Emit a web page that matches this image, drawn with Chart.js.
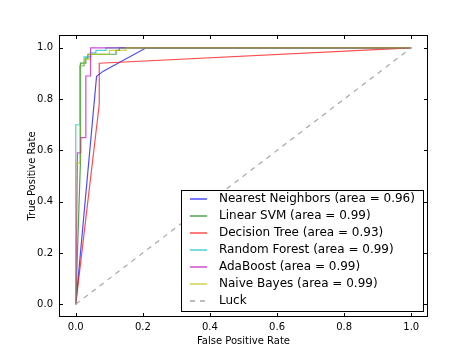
<!doctype html>
<html lang="en">
<head>
  <meta charset="utf-8">
  <title>ROC curves</title>
  <script src="https://cdn.jsdelivr.net/npm/chart.js"></script>
  <style>
    body { margin: 0; background: #fff; }
    #wrap { width: 474px; height: 353px; }
  </style>
</head>
<body>
  <div id="wrap"><canvas id="roc"></canvas></div>

  <script>
    // === DATA ===
    const names = ["Nearest Neighbors", "Linear SVM", "Decision Tree", "Random Forest", "AdaBoost", "Naive Bayes"];
    const areas = ["0.96", "0.99", "0.93", "0.99", "0.99", "0.99"];

    const nnFpr = [0, 0.062, 0.082, 0.21, 1];
    const nnTpr = [0, 0.889, 0.909, 1, 1];

    const svmFpr = [0, 0.014, 0.014, 0.03, 0.03, 0.036, 0.036, 0.12, 0.12, 0.13, 0.13, 1];
    const svmTpr = [0, 0.56, 0.94, 0.94, 0.96, 0.96, 0.975, 0.975, 0.99, 0.99, 1, 1];

    const treeFpr = [0, 0.07, 0.07, 1];
    const treeTpr = [0, 0.78, 0.94, 1];

    const forestFpr = [0, 0, 0.012, 0.012, 0.025, 0.025, 0.045, 0.045, 0.06, 0.06, 0.09, 0.09, 1];
    const forestTpr = [0, 0.70, 0.70, 0.93, 0.93, 0.965, 0.965, 0.98, 0.98, 0.99, 0.99, 1, 1];

    const adaFpr = [0, 0.005, 0.015, 0.015, 0.03, 0.03, 0.044, 0.044, 1];
    const adaTpr = [0, 0.59, 0.59, 0.65, 0.65, 0.89, 0.89, 1, 1];

    const bayesFpr = [0, 0, 0.012, 0.012, 0.025, 0.025, 0.04, 0.04, 0.1, 0.1, 0.15, 0.15, 1];
    const bayesTpr = [0, 0.55, 0.55, 0.93, 0.93, 0.955, 0.955, 0.975, 0.975, 0.99, 0.99, 1, 1];

    const luckFpr = [0, 1];
    const luckTpr = [0, 1];

    const tickValues = [0, 0.2, 0.4, 0.6, 0.8, 1.0];

    const colors = [
      "rgba(0,0,255,0.7)",
      "rgba(0,128,0,0.7)",
      "rgba(255,0,0,0.7)",
      "rgba(0,191,191,0.7)",
      "rgba(191,0,191,0.7)",
      "rgba(191,191,0,0.7)"
    ];
    const luckColor = "#a6a6a6";

    const FONT = "'DejaVu Sans', sans-serif";

    // zip two arrays into {x, y} points
    function toPoints(xs, ys) {
      return xs.map((v, i) => ({ x: v, y: ys[i] }));
    }

    const curves = [
      [nnFpr, nnTpr], [svmFpr, svmTpr], [treeFpr, treeTpr],
      [forestFpr, forestTpr], [adaFpr, adaTpr], [bayesFpr, bayesTpr]
    ];

    const datasets = curves.map((c, i) => ({
      label: names[i] + " (area = " + areas[i] + ")",
      data: toPoints(c[0], c[1]),
      borderColor: colors[i],
      borderWidth: 1.2,
      order: -i
    }));
    datasets.push({
      label: "Luck",
      data: toPoints(luckFpr, luckTpr),
      borderColor: luckColor,
      borderWidth: 1.2,
      borderDash: [5, 5],
      order: -10
    });

    // === Frame, inward ticks and in-axes legend (matplotlib look) ===
    const framePlugin = {
      id: "frame",
      afterDatasetsDraw(chart) {
        const { ctx, chartArea: a, scales: { x, y } } = chart;
        ctx.save();
        ctx.strokeStyle = "#000";
        ctx.lineWidth = 1;
        ctx.strokeRect(a.left + 0.5, a.top + 0.5, a.right - a.left - 1, a.bottom - a.top - 1);

        ctx.beginPath();
        tickValues.forEach(v => {
          const px = Math.round(x.getPixelForValue(v)) + 0.5;
          ctx.moveTo(px, a.bottom); ctx.lineTo(px, a.bottom - 4);
          ctx.moveTo(px, a.top); ctx.lineTo(px, a.top + 4);
          const py = Math.round(y.getPixelForValue(v)) + 0.5;
          ctx.moveTo(a.left, py); ctx.lineTo(a.left + 4, py);
          ctx.moveTo(a.right, py); ctx.lineTo(a.right - 4, py);
        });
        ctx.stroke();

        // legend box
        ctx.font = "12px " + FONT;
        const labels = chart.data.datasets.map(d => d.label);
        const textW = Math.max(...labels.map(l => ctx.measureText(l).width));
        const boxW = Math.round(38 + textW + 8);
        const boxH = 121;
        const left = a.right - 5 - boxW;
        const top = a.bottom - 6 - boxH;
        ctx.fillStyle = "#fff";
        ctx.fillRect(left, top, boxW, boxH);
        ctx.strokeRect(left + 0.5, top + 0.5, boxW, boxH);

        ctx.textBaseline = "middle";
        chart.data.datasets.forEach((d, i) => {
          const cy = Math.round(top + 9 + i * 17.07);
          ctx.beginPath();
          ctx.lineWidth = 1.5;
          ctx.strokeStyle = d.borderColor;
          ctx.setLineDash(d.borderDash || []);
          ctx.moveTo(left + 9, cy);
          ctx.lineTo(left + 26, cy);
          ctx.stroke();
          ctx.setLineDash([]);
          ctx.fillStyle = "#000";
          ctx.fillText(d.label, left + 38, cy);
        });
        ctx.restore();
      }
    };

    new Chart(document.getElementById("roc"), {
      type: "scatter",
      data: { datasets: datasets },
      options: {
        responsive: true,
        maintainAspectRatio: false,
        animation: false,
        showLine: true,
        elements: { point: { radius: 0 }, line: { tension: 0 } },
        layout: { padding: { left: 22, top: 35, right: 46, bottom: 0 } },
        plugins: { legend: { display: false }, tooltip: { enabled: false } },
        scales: {
          x: {
            type: "linear",
            min: -0.05,
            max: 1.05,
            grid: { display: false, drawTicks: false },
            border: { display: false },
            afterBuildTicks: s => { s.ticks = tickValues.map(v => ({ value: v })); },
            afterFit: s => { s.height = 36; },
            ticks: {
              padding: 4,
              color: "#000",
              font: { family: FONT, size: 10 },
              callback: v => v.toFixed(1)
            },
            title: {
              display: true,
              text: "False Positive Rate",
              color: "#000",
              font: { family: FONT, size: 10 },
              padding: { top: 0, bottom: 6 }
            }
          },
          y: {
            type: "linear",
            min: -0.05,
            max: 1.05,
            grid: { display: false, drawTicks: false },
            border: { display: false },
            afterBuildTicks: s => { s.ticks = tickValues.map(v => ({ value: v })); },
            afterFit: s => { s.width = 37; },
            ticks: {
              padding: 6,
              color: "#000",
              font: { family: FONT, size: 10 },
              callback: v => v.toFixed(1)
            },
            title: {
              display: true,
              text: "True Positive Rate",
              color: "#000",
              font: { family: FONT, size: 10 },
              padding: { top: 4, bottom: 0 }
            }
          }
        }
      },
      plugins: [framePlugin]
    });
  </script>
</body>
</html>
